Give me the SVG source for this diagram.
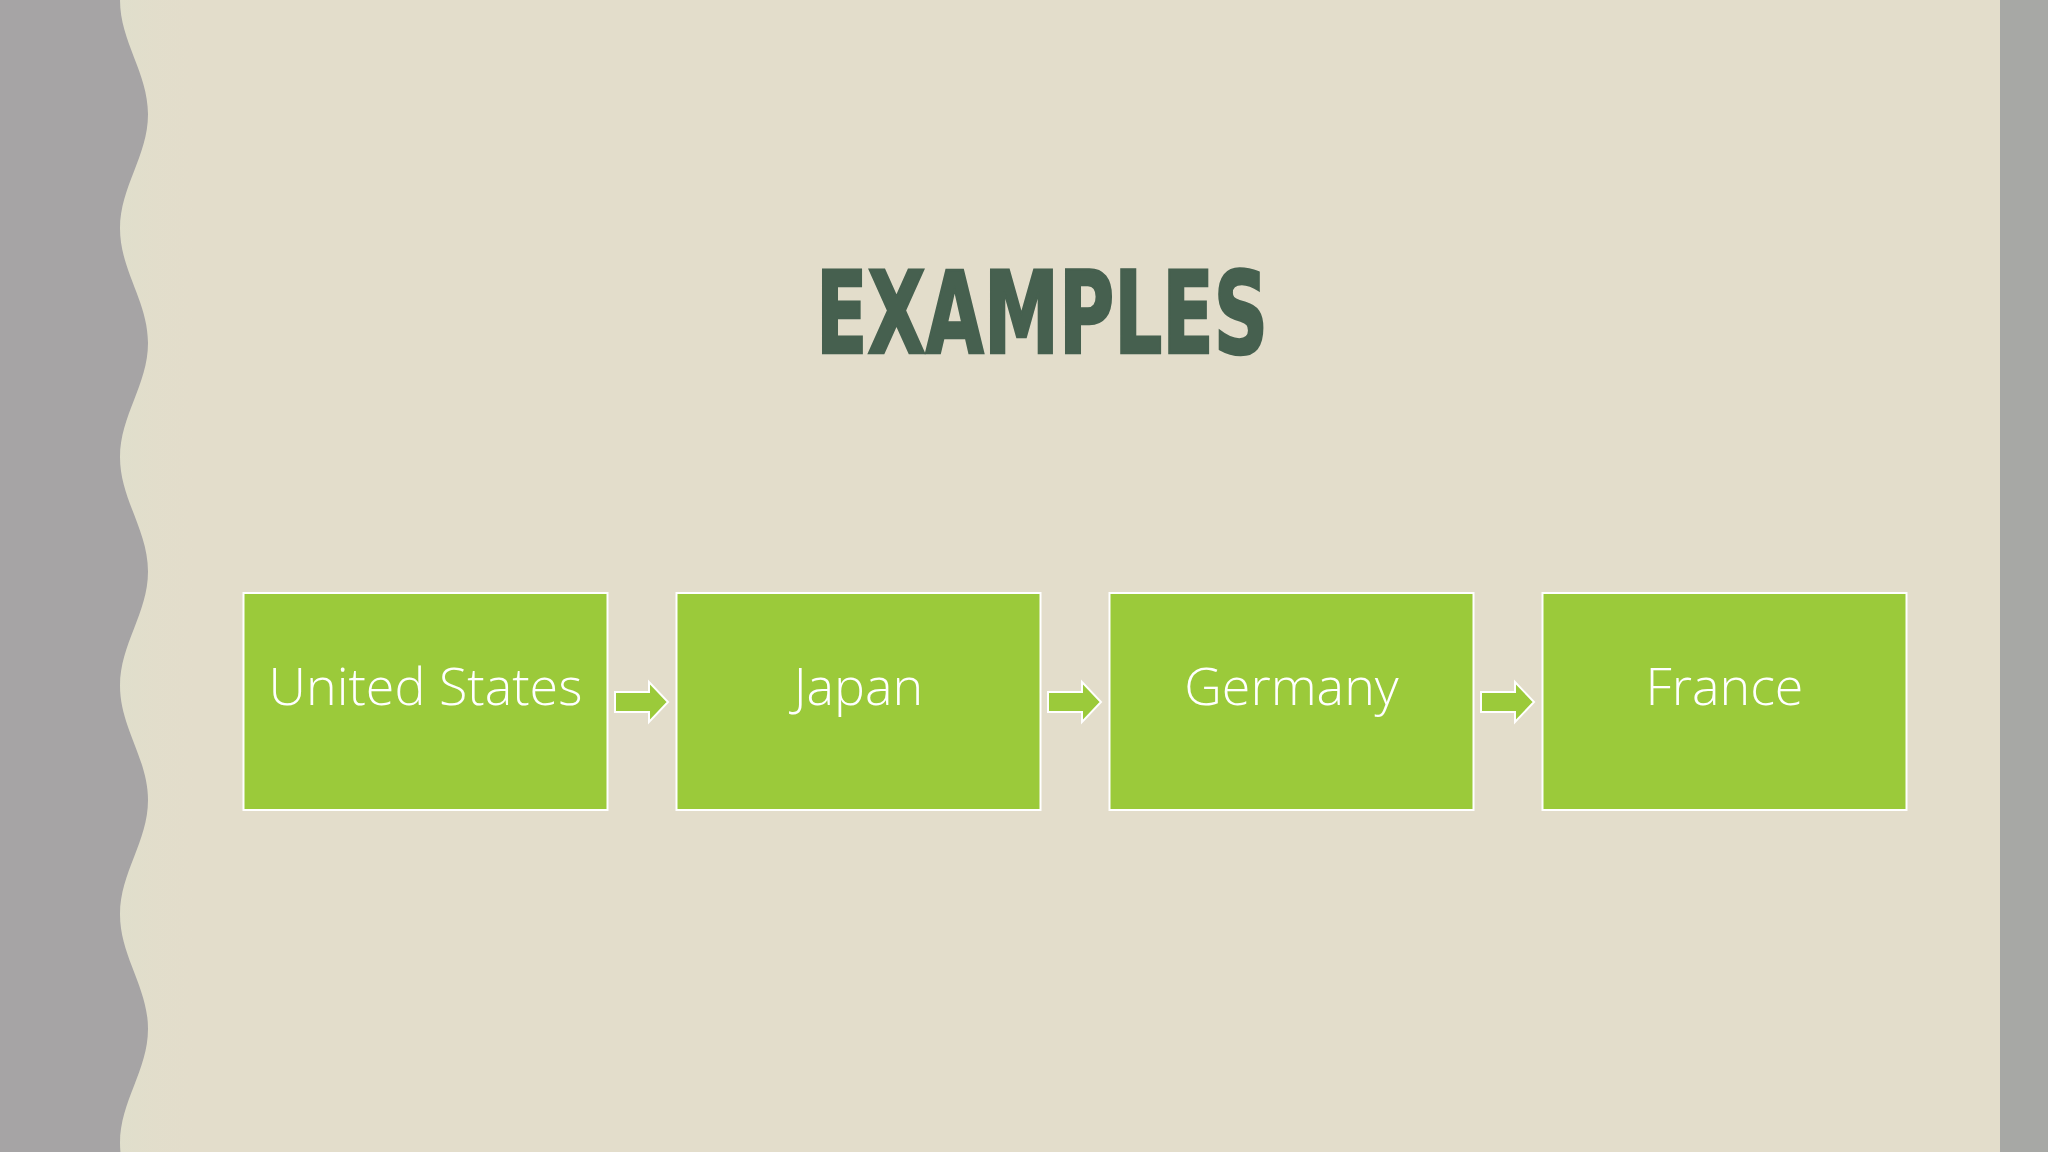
<svg xmlns="http://www.w3.org/2000/svg" width="2048" height="1152" viewBox="0 0 2048 1152">
  <defs>
    <style>
      .box { fill: #9bca3a; stroke: #ffffff; stroke-width: 2; }
      .lbl { fill: #ffffff; font-family: "Open Sans", "Noto Sans", "Liberation Sans", sans-serif; font-weight: 300; font-size: 52px; text-anchor: middle; }
      .arrow { fill: #9bca3a; stroke: #ffffff; stroke-width: 2; stroke-linejoin: miter; }
      .title { fill: #46604f; stroke: #46604f; stroke-width: 2.5; stroke-linejoin: miter; font-family: "DejaVu Sans Condensed", "DejaVu Sans", sans-serif; font-weight: bold; font-size: 114px; }
    </style>
    <linearGradient id="glow" x1="0" y1="0" x2="1" y2="0">
      <stop offset="0" stop-color="#dfdfcc" stop-opacity="1"/>
      <stop offset="1" stop-color="#e3ddcb" stop-opacity="0"/>
    </linearGradient>
    <path id="arr" d="M0,-10 L34,-10 L34,-20 L53,0 L34,20 L34,10 L0,10 Z"/>
  </defs>

  <g id="background">
    <rect x="0" y="0" width="2048" height="1152" fill="#e3ddcb"/>
    <rect x="110" y="0" width="90" height="1152" fill="url(#glow)"/>
    <path fill="#a6a4a5" d="M0,0 L120,0 C120,41.6 148,72.7 148,114.3 S120,187 120,228.6 S148,301.3 148,342.9 S120,415.6 120,457.2 S148,529.9 148,571.5 S120,644.2 120,685.8 S148,758.5 148,800.1 S120,872.8 120,914.4 S148,987.1 148,1028.7 S120,1101.4 120,1143 S148,1215.7 148,1257.3 L0,1257.3 Z"/>
    <rect x="2000" y="0" width="48" height="1152" fill="#a7a8a5"/>
  </g>

  <g id="title">
    <text class="title" x="816" y="353" textLength="452" lengthAdjust="spacingAndGlyphs">EXAMPLES</text>
  </g>

  <g id="connectors">
    <use href="#arr" class="arrow" transform="translate(615,702)"/>
    <use href="#arr" class="arrow" transform="translate(1048,702)"/>
    <use href="#arr" class="arrow" transform="translate(1481,702)"/>
  </g>

  <g id="node-united-states">
    <rect class="box" x="243.5" y="593" width="364" height="217"/>
    <text class="lbl" x="425.5" y="705">United States</text>
  </g>
  <g id="node-japan">
    <rect class="box" x="676.5" y="593" width="364" height="217"/>
    <text class="lbl" x="858.5" y="705">Japan</text>
  </g>
  <g id="node-germany">
    <rect class="box" x="1109.5" y="593" width="364" height="217"/>
    <text class="lbl" x="1291.5" y="705">Germany</text>
  </g>
  <g id="node-france">
    <rect class="box" x="1542.5" y="593" width="364" height="217"/>
    <text class="lbl" x="1724.5" y="705">France</text>
  </g>
</svg>
